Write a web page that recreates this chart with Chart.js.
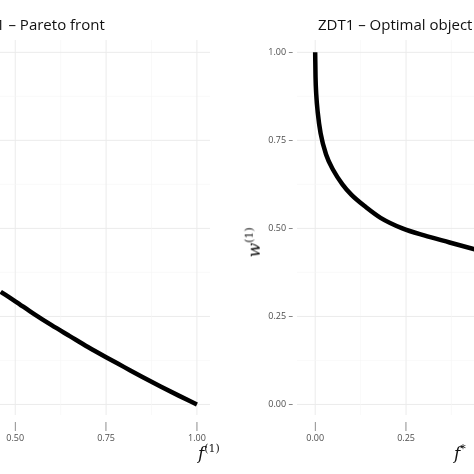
<!DOCTYPE html>
<html>
<head>
<script src="https://cdn.jsdelivr.net/npm/chart.js@4"></script>
<style>
  body { margin: 0; background: #fff; width: 474px; height: 474px; overflow: hidden; position: relative; font-family: "Open Sans", sans-serif; }
  .box { position: absolute; top: 0; height: 474px; }
  .txt { position: absolute; white-space: nowrap; color: #111; }
  .lab { font-family: "DejaVu Serif", serif; font-style: italic; font-size: 17px; }
</style>
</head>
<body>
<div class="box" style="left:0;width:237px"><canvas id="left"></canvas></div>
<div class="box" style="left:237px;width:237px"><canvas id="right"></canvas></div>
<div class="txt" style="left:-4px;top:14px;font-size:15px">1 – Pareto front</div>
<div class="txt" style="left:318px;top:14px;font-size:15px">ZDT1 – Optimal object</div>
<div class="txt lab" style="left:198px;top:442px">f<sup style="font-style:normal;font-size:11px">(1)</sup></div>
<div class="txt lab" style="left:454px;top:442px">f<sup style="font-style:normal;font-size:11px">*</sup></div>
<div class="txt lab" style="left:238px;top:232px;transform:rotate(-90deg)">w<sup style="font-style:normal;font-size:11px">(1)</sup></div>
<script>
// left panel: Pareto front
const paretoF1 = [0.46, 0.5, 0.55, 0.6, 0.65, 0.7, 0.75, 0.8, 0.85, 0.9, 0.95, 1.0];
const paretoF2 = [0.32, 0.293, 0.258, 0.225, 0.194, 0.163, 0.134, 0.106, 0.078, 0.051, 0.025, 0.0];
// right panel: optimal objective weight
const optF = [0.0, 0.001, 0.003, 0.007, 0.015, 0.03, 0.05, 0.075, 0.1, 0.14, 0.18, 0.24, 0.3, 0.37, 0.44];
const optW = [1.0, 0.93, 0.88, 0.83, 0.77, 0.71, 0.665, 0.625, 0.595, 0.56, 0.53, 0.5, 0.48, 0.46, 0.44];
const tickVals = [0, 0.25, 0.5, 0.75, 1.0];

function pts(xs, ys) { return xs.map((x, i) => ({ x: x, y: ys[i] })); }

const gridPlugin = {
  id: 'ggGrid',
  beforeDatasetsDraw(chart, args, opts) {
    const c = chart.ctx, a = chart.chartArea, xs = chart.scales.x, ys = chart.scales.y;
    c.save();
    c.beginPath(); c.rect(a.left, a.top, a.right - a.left, a.bottom - a.top); c.clip();
    for (let v = -0.125; v <= 1.2; v += 0.125) {
      const major = Math.abs(v * 4 - Math.round(v * 4)) < 1e-6;
      c.strokeStyle = major ? '#ebebeb' : '#f5f5f5';
      c.lineWidth = major ? 1 : 0.6;
      const px = xs.getPixelForValue(v), py = ys.getPixelForValue(v);
      c.beginPath(); c.moveTo(px, a.top); c.lineTo(px, a.bottom); c.stroke();
      c.beginPath(); c.moveTo(a.left, py); c.lineTo(a.right, py); c.stroke();
    }
    c.restore();
    c.save();
    c.fillStyle = '#4d4d4d'; c.font = '9px "Open Sans", sans-serif';
    c.textAlign = 'center';
    tickVals.forEach(v => {
      const px = xs.getPixelForValue(v);
      if (px < a.left - 2 || px > a.right + 2) return;
      c.fillText('|', px, a.bottom + 14);
      c.fillText(v.toFixed(2), px, a.bottom + 26);
    });
    if (opts.yLabels) {
      c.textAlign = 'right'; c.textBaseline = 'middle';
      tickVals.forEach(v => c.fillText(v.toFixed(2) + ' –', a.left - 4, ys.getPixelForValue(v)));
    }
    c.restore();
  }
};

function makeChart(id, data, xmin, xmax, pad, yLabels) {
  new Chart(document.getElementById(id), {
    type: 'scatter',
    data: { datasets: [{ data: data, showLine: true, borderColor: '#000', borderWidth: 4.5, pointRadius: 0, tension: 0.4, cubicInterpolationMode: 'monotone' }] },
    options: {
      responsive: true, maintainAspectRatio: false, animation: false,
      layout: { padding: pad },
      plugins: { legend: { display: false }, tooltip: { enabled: false }, ggGrid: { yLabels: yLabels } },
      scales: {
        x: { display: false, type: 'linear', min: xmin, max: xmax },
        y: { display: false, type: 'linear', min: -0.03, max: 1.035 }
      }
    },
    plugins: [gridPlugin]
  });
}

makeChart('left', pts(paretoF1, paretoF2), 0.458, 1.036, { left: 0, right: 27, top: 40, bottom: 59 }, false);
makeChart('right', pts(optF, optW), -0.05, 0.437, { left: 60, right: 0, top: 40, bottom: 59 }, true);
</script>
</body>
</html>
